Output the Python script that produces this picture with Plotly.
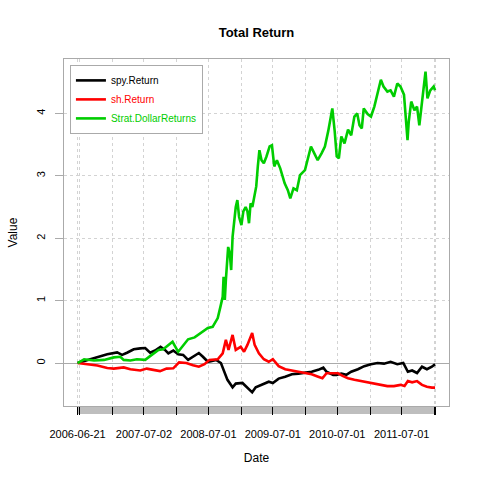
import plotly.graph_objects as go

# ---- values ----
spy_dates = ["2006-06-21", "2006-08-16", "2006-10-11", "2006-12-06", "2007-01-31", "2007-02-28",
             "2007-03-28", "2007-05-05", "2007-06-11", "2007-07-09", "2007-08-06", "2007-09-03",
             "2007-10-04", "2007-10-29", "2007-11-17", "2007-12-15", "2008-01-12", "2008-02-09",
             "2008-03-08", "2008-04-05", "2008-05-08", "2008-05-31", "2008-06-28", "2008-07-15",
             "2008-08-13", "2008-09-10", "2008-09-29", "2008-10-17", "2008-11-15", "2008-12-03",
             "2009-01-10", "2009-01-28", "2009-03-06", "2009-03-26", "2009-05-02", "2009-06-08",
             "2009-07-01", "2009-08-03", "2009-09-09", "2009-10-17", "2009-11-23", "2009-12-30",
             "2010-02-06", "2010-03-15", "2010-04-13", "2010-05-01", "2010-06-08", "2010-06-27",
             "2010-07-24", "2010-08-21", "2010-09-18", "2010-10-26", "2010-12-01", "2011-01-08",
             "2011-02-14", "2011-03-23", "2011-04-29", "2011-06-06", "2011-07-10", "2011-08-05",
             "2011-08-29", "2011-09-26", "2011-10-24", "2011-11-21", "2011-12-19", "2012-01-06"]
spy_return = [0.00, 0.05, 0.10, 0.14, 0.17, 0.13,
              0.165, 0.22, 0.235, 0.24, 0.165, 0.20,
              0.26, 0.21, 0.155, 0.20, 0.14, 0.13,
              0.05, 0.10, 0.16, 0.10, 0.02, 0.03,
              0.05, 0.00, -0.14, -0.27, -0.39, -0.33,
              -0.32, -0.37, -0.47, -0.39, -0.35, -0.30,
              -0.32, -0.25, -0.22, -0.18, -0.17, -0.155,
              -0.14, -0.11, -0.075, -0.14, -0.19, -0.19,
              -0.17, -0.19, -0.14, -0.10, -0.05, -0.02,
              0.00, -0.01, 0.02, -0.02, 0.00, -0.14,
              -0.12, -0.16, -0.06, -0.10, -0.06, -0.02]

sh_dates = ["2006-06-21", "2006-08-16", "2006-10-11", "2006-12-06", "2007-01-12", "2007-03-09",
            "2007-04-16", "2007-06-11", "2007-07-18", "2007-08-24", "2007-10-01", "2007-11-07",
            "2007-12-15", "2008-01-17", "2008-02-27", "2008-04-05", "2008-05-08", "2008-06-09",
            "2008-07-07", "2008-08-23", "2008-09-20", "2008-10-08", "2008-10-23", "2008-11-15",
            "2008-12-03", "2008-12-31", "2009-01-19", "2009-02-07", "2009-03-06", "2009-03-20",
            "2009-04-13", "2009-05-11", "2009-06-08", "2009-07-01", "2009-08-03", "2009-09-09",
            "2009-10-17", "2009-11-23", "2009-12-30", "2010-02-06", "2010-03-15", "2010-04-08",
            "2010-05-01", "2010-05-28", "2010-07-05", "2010-08-03", "2010-08-31", "2010-10-06",
            "2010-11-13", "2010-12-20", "2011-01-27", "2011-03-05", "2011-04-11", "2011-05-18",
            "2011-06-24", "2011-07-17", "2011-08-05", "2011-08-29", "2011-09-26", "2011-10-24",
            "2011-11-21", "2011-12-19", "2012-01-06"]
sh_return = [0.00, -0.02, -0.04, -0.08, -0.09, -0.07,
             -0.10, -0.12, -0.09, -0.11, -0.13, -0.09,
             -0.085, 0.01, 0.00, -0.035, -0.06, -0.02,
             0.05, 0.06, 0.155, 0.37, 0.21, 0.45,
             0.21, 0.26, 0.18, 0.29, 0.48, 0.29,
             0.155, 0.06, 0.02, 0.06, -0.05, -0.10,
             -0.12, -0.14, -0.155, -0.18, -0.22, -0.245,
             -0.165, -0.17, -0.165, -0.21, -0.245, -0.27,
             -0.29, -0.315, -0.335, -0.35, -0.37, -0.37,
             -0.35, -0.37, -0.29, -0.31, -0.29, -0.35,
             -0.38, -0.395, -0.395]

strat_dates = ["2006-06-21", "2006-07-28", "2006-09-22", "2006-11-18", "2007-01-12", "2007-02-18",
               "2007-03-09", "2007-04-16", "2007-05-23", "2007-07-09", "2007-08-15", "2007-09-22",
               "2007-10-19", "2007-11-17", "2007-12-11", "2008-01-12", "2008-02-09", "2008-03-08",
               "2008-04-14", "2008-05-21", "2008-06-28", "2008-07-25", "2008-08-23", "2008-09-07",
               "2008-09-20", "2008-09-25", "2008-10-02", "2008-10-08", "2008-10-21", "2008-10-30",
               "2008-11-07", "2008-11-15", "2008-11-24", "2008-12-03", "2008-12-12", "2008-12-22",
               "2009-01-04", "2009-01-15", "2009-01-28", "2009-02-07", "2009-02-16", "2009-02-25",
               "2009-03-07", "2009-03-17", "2009-03-29", "2009-04-07", "2009-04-16", "2009-04-28",
               "2009-05-11", "2009-05-26", "2009-06-13", "2009-06-26", "2009-07-09", "2009-07-24",
               "2009-08-12", "2009-09-06", "2009-09-24", "2009-10-08", "2009-10-26", "2009-11-14",
               "2009-12-02", "2009-12-30", "2010-01-14", "2010-02-02", "2010-02-21", "2010-03-12",
               "2010-04-03", "2010-04-22", "2010-05-11", "2010-06-03", "2010-06-16", "2010-06-28",
               "2010-07-10", "2010-07-24", "2010-08-11", "2010-08-31", "2010-09-18", "2010-10-06",
               "2010-10-22", "2010-11-04", "2010-11-17", "2010-11-28", "2010-12-20", "2011-01-08",
               "2011-01-27", "2011-02-14", "2011-03-05", "2011-03-20", "2011-04-11", "2011-04-29",
               "2011-05-18", "2011-06-06", "2011-06-24", "2011-07-14", "2011-08-03", "2011-08-10",
               "2011-08-24", "2011-09-11", "2011-09-26", "2011-10-09", "2011-10-24", "2011-11-06",
               "2011-11-13", "2011-11-24", "2011-12-10", "2011-12-29", "2012-01-06"]
strat_returns = [0.00, 0.06, 0.04, 0.05, 0.09, 0.10,
                 0.05, 0.04, 0.06, 0.05, 0.13, 0.21,
                 0.22, 0.29, 0.34, 0.18, 0.29, 0.38,
                 0.41, 0.48, 0.56, 0.58, 0.72, 0.90,
                 1.06, 1.38, 1.01, 1.33, 1.86, 1.76,
                 1.49, 2.02, 2.24, 2.50, 2.61, 2.34,
                 2.21, 2.43, 2.50, 2.43, 2.24, 2.56,
                 2.50, 2.64, 2.83, 3.15, 3.41, 3.25,
                 3.20, 3.31, 3.47, 3.49, 3.15, 3.25,
                 3.12, 2.88, 2.77, 2.64, 2.80, 2.77,
                 3.01, 3.09, 3.28, 3.47, 3.36, 3.25,
                 3.36, 3.47, 3.72, 4.08, 3.73, 3.31,
                 3.28, 3.63, 3.52, 3.74, 3.65, 3.95,
                 4.00, 3.81, 3.76, 4.08, 3.99, 3.95,
                 4.11, 4.32, 4.54, 4.43, 4.35, 4.37,
                 4.27, 4.48, 4.43, 4.30, 3.57, 3.87,
                 4.19, 4.05, 4.11, 3.81, 4.16, 4.48,
                 4.67, 4.24, 4.37, 4.43, 4.37]

tick_dates = ["2006-06-21", "2006-07-03", "2007-01-03", "2007-07-02", "2008-01-02", "2008-07-01",
              "2009-01-02", "2009-07-01", "2010-01-04", "2010-07-01", "2011-01-03", "2011-07-01",
              "2012-01-03", "2012-01-06"]
tick_labels = ["2006-06-21", "", "", "2007-07-02", "", "2008-07-01",
               "", "2009-07-01", "", "2010-07-01", "", "2011-07-01",
               "", ""]
value_ticks = [0, 1, 2, 3, 4]

AXIS_GREY = "#aaaaaa"
GRID_GREY = "#d3d3d3"
FONT = "Liberation Sans, Arial, sans-serif"

fig = go.Figure()

series = [
    (spy_dates, spy_return, "spy.Return", "#000000"),
    (sh_dates, sh_return, "sh.Return", "#ff0000"),
    (strat_dates, strat_returns, "Strat.DollarReturns", "#00cd00"),
]
for dates, vals, name, col in series:
    fig.add_trace(go.Scatter(
        x=dates, y=vals, mode="lines",
        name=f"<span style='color:{col}'>{name}</span>",
        line=dict(color=col, width=2.6),
    ))

# grey band of per-observation minor ticks under the x axis
fig.add_shape(type="rect", xref="x", yref="paper",
              x0=spy_dates[0], x1=spy_dates[-1], y0=-0.023, y1=0,
              fillcolor="#bebebe", line=dict(width=0), layer="below")

fig.update_layout(
    width=480, height=480,
    margin=dict(l=60, r=31, t=59, b=74),
    paper_bgcolor="white", plot_bgcolor="white",
    font=dict(family=FONT, color="black", size=11),
    title=dict(text="<b>Total Return</b>", xref="paper", x=0.5, xanchor="center",
               y=1 - 32 / 480, yanchor="middle", font=dict(size=13)),
    showlegend=True,
    legend=dict(x=0.0154, y=0.983, xanchor="left", yanchor="top",
                bgcolor="white", bordercolor=AXIS_GREY, borderwidth=1,
                font=dict(size=10), tracegroupgap=0),
)
fig.update_xaxes(
    type="date", range=["2006-04-05", "2012-03-25"],
    tickmode="array", tickvals=tick_dates, ticktext=tick_labels,
    ticks="outside", ticklen=8, tickcolor="black", tickwidth=1,
    ticklabelstandoff=10, tickfont=dict(size=11),
    showline=True, linecolor=AXIS_GREY, mirror=True,
    showgrid=True, gridcolor=GRID_GREY, griddash="3px,3px", gridwidth=1,
    zeroline=False,
    title=dict(text="Date", standoff=14, font=dict(size=12)),
)
fig.update_yaxes(
    range=[-0.689, 4.872], tickmode="array", tickvals=value_ticks,
    tickangle=-90, ticks="outside", ticklen=8, tickcolor=AXIS_GREY,
    ticklabelstandoff=6, tickfont=dict(size=11),
    showline=True, linecolor=AXIS_GREY, mirror=True,
    showgrid=True, gridcolor=GRID_GREY, griddash="3px,3px", gridwidth=1,
    zeroline=True, zerolinecolor=AXIS_GREY, zerolinewidth=1,
    title=dict(text="Value", standoff=14, font=dict(size=12)),
)

# drop the browser's default 8px body margin so the figure sits at the page corner
fig.write_html("out.html", config={"displayModeBar": False},
               post_script="document.body.style.margin='0';")
